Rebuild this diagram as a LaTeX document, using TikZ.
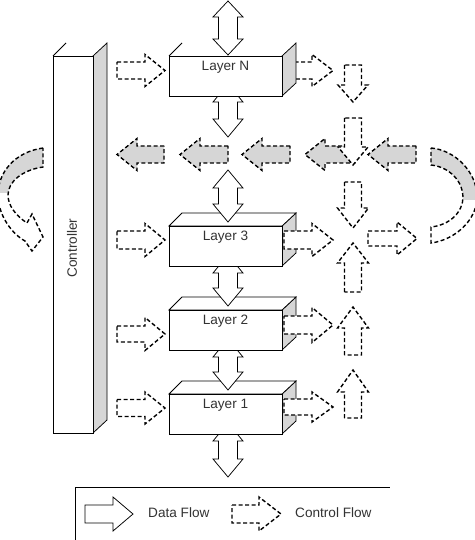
\documentclass[tikz,border=0pt]{standalone}
\usepackage{fontspec}
\setmainfont{Liberation Sans}
\definecolor{flowgray}{gray}{0.84}
\definecolor{sidegray}{gray}{0.84}
\definecolor{txtc}{gray}{0.2}
% right arrow: tail x, tip x, yc, shaft half, head half, head length
\newcommand\arrR[6]{(#1,#3-#4) -- (#2-#6,#3-#4) -- (#2-#6,#3-#5) -- (#2,#3) -- (#2-#6,#3+#5) -- (#2-#6,#3+#4) -- (#1,#3+#4) -- cycle}
\newcommand\arrL[6]{(#1,#3-#4) -- (#2+#6,#3-#4) -- (#2+#6,#3-#5) -- (#2,#3) -- (#2+#6,#3+#5) -- (#2+#6,#3+#4) -- (#1,#3+#4) -- cycle}
% down arrow: tail y, tip y, xc, ...
\newcommand\arrD[6]{(#3-#4,#1) -- (#3-#4,#2-#6) -- (#3-#5,#2-#6) -- (#3,#2) -- (#3+#5,#2-#6) -- (#3+#4,#2-#6) -- (#3+#4,#1) -- cycle}
\newcommand\arrU[6]{(#3-#4,#1) -- (#3-#4,#2+#6) -- (#3-#5,#2+#6) -- (#3,#2) -- (#3+#5,#2+#6) -- (#3+#4,#2+#6) -- (#3+#4,#1) -- cycle}
% double vertical arrow: top tip, bottom tip, xc, shaft half, head half, head length
\newcommand\arrDD[6]{(#3,#1) -- (#3+#5,#1+#6) -- (#3+#4,#1+#6) -- (#3+#4,#2-#6) -- (#3+#5,#2-#6) -- (#3,#2) -- (#3-#5,#2-#6) -- (#3-#4,#2-#6) -- (#3-#4,#1+#6) -- (#3-#5,#1+#6) -- cycle}
\newcommand\lcurve{(43,148) .. controls (15,152) and (-2,172) .. (-2,195) .. controls (-2,215) and (12,234) .. (25,241) -- (32,251) -- (43,237) -- (32,214) -- (27,223) .. controls (15,215) and (8,205) .. (8,195) .. controls (8,182) and (22,170) .. (43,167) -- cycle}
\newcommand\rcurve{(431,148) .. controls (455,150) and (477,172) .. (477,197) .. controls (477,220) and (455,240) .. (431,243) -- (431,227) .. controls (450,225) and (463,212) .. (463,197) .. controls (463,182) and (450,167) .. (431,165) -- cycle}
\tikzset{
  ctrl/.style={draw=black, line width=1.4pt, dash pattern=on 4pt off 2.5pt, fill=white, line join=miter},
  ctrlg/.style={ctrl, fill=flowgray},
  data/.style={draw=black, line width=0.75pt, fill=white, line join=miter},
  face/.style={draw=black, line width=0.75pt, line join=miter},
  front/.style={draw=black, line width=0.75pt, fill=white, inner sep=0pt, minimum width=113pt, minimum height=40pt},
  lbl/.style={inner sep=0pt, text=txtc, font=\fontsize{13.6}{16}\selectfont}
}
\newcommand\mybox[3]{%
  \draw[face, fill=sidegray] (282,#2) -- (296,#2-13) -- (296,#2+27) -- (282,#2+40) -- cycle;
  \draw[face, fill=white] (169,#2) -- (182,#2-13) -- (296,#2-13) -- (282,#2) -- cycle;
  \node[front, anchor=north west] (#1) at (169,#2) {};
  \node[lbl] (#1t) at (225.5,#2+11) {#3};
}
\begin{document}
\begin{tikzpicture}[x=1pt,y=-1pt]
\useasboundingbox (0,0) rectangle (474,540);
\fill[white] (0,0) rectangle (474,540);

% legend
\draw[line width=0.8pt] (75,545) -- (75,487) -- (390,487);
\draw[data] \arrR{85}{133}{514}{9}{17}{20};
\node[lbl, anchor=west] (dflow) at (148,513) {Data Flow};
\draw[ctrl] \arrR{232}{281}{514}{9}{17}{22};
\node[lbl, anchor=west] (cflow) at (295,513) {Control Flow};

% curved arrows
\begin{scope}
  \clip (-10,130) rectangle (60,192);
  \fill[flowgray] \lcurve;
\end{scope}
\draw[ctrl, fill=none] \lcurve;
\begin{scope}
  \clip (420,130) rectangle (490,199);
  \fill[flowgray] \rcurve;
\end{scope}
\draw[ctrl, fill=none] \rcurve;

% controller
\draw[face, fill=sidegray] (93,56) -- (107,43) -- (107,420) -- (93,433) -- cycle;
\node[front, minimum width=40pt, minimum height=377pt, anchor=north west] (ctrlr) at (53,56) {};
\draw[face] (53,56) -- (66,43);
\node[lbl, rotate=90] (ctrlt) at (72,248) {Controller};

% controller -> layers
\draw[ctrl] \arrR{117}{165}{70.5}{8.5}{16}{20};
\draw[ctrl] \arrR{117}{165}{240}{9}{16.5}{20};
\draw[ctrl] \arrR{117}{165}{334}{8}{16.5}{20};
\draw[ctrl] \arrR{117}{165}{408}{8.5}{16}{20};

% gray row of left arrows
\draw[ctrlg] \arrL{164}{117}{154.5}{8.5}{16}{20};
\draw[ctrlg] \arrL{228}{180}{154.5}{8.5}{16}{20};
\draw[ctrlg] \arrL{290}{242}{154.5}{8.5}{16}{20};
\draw[ctrlg] \arrL{355}{305}{154.5}{8.5}{16}{20};
\draw[ctrlg] \arrL{416}{368}{154.5}{8.5}{16}{20};

% vertical control arrows
\draw[ctrl] \arrD{65}{102}{353}{8.5}{15}{17};
\draw[ctrl] \arrD{118}{165}{353}{8.5}{15}{18};
\draw[ctrl] \arrD{182}{228}{353}{8.5}{15.5}{20};
\draw[ctrl] \arrU{292}{243}{353}{8.5}{15.5}{20};
\draw[ctrl] \arrU{355}{307}{353}{8.5}{15.5}{21};
\draw[ctrl] \arrU{418}{370}{353}{8.5}{15.5}{22};
\draw[ctrl] \arrR{368}{417}{238.5}{7.5}{16.5}{20};

% layer N right arrow (behind box)
\draw[ctrl] \arrR{288}{333}{70.5}{8.5}{16}{21};

% data flow and layers, from bottom up
\draw[data] \arrDD{423}{477}{228}{9.5}{15}{18};
\mybox{L1}{394}{Layer 1}
\draw[data] \arrDD{339}{390}{228}{9.5}{15}{18};
\mybox{L2}{310}{Layer 2}
\draw[data] \arrDD{255}{306}{228}{9.5}{15}{18};
\mybox{L3}{226}{Layer 3}
\draw[data] \arrDD{170}{222}{228}{9.5}{15}{18};
\draw[data] \arrDD{84}{137}{228}{9.5}{15}{18};
% layer N (no top face)
\draw[face, fill=sidegray] (282,56) -- (296,43) -- (296,83) -- (282,96) -- cycle;
\node[front, anchor=north west] (LN) at (169,56) {};
\draw[face] (169,56) -- (182,43);
\node[lbl] (LNt) at (225.5,67) {Layer N};
\draw[data] \arrDD{1}{55}{228}{9.5}{15}{16};

% layers -> right
\draw[ctrl] \arrR{284}{333}{240}{9}{16.5}{21};
\draw[ctrl] \arrR{284}{333}{325}{9}{17.5}{21};
\draw[ctrl] \arrR{284}{333}{407}{8}{15}{21};
\end{tikzpicture}
\end{document}
